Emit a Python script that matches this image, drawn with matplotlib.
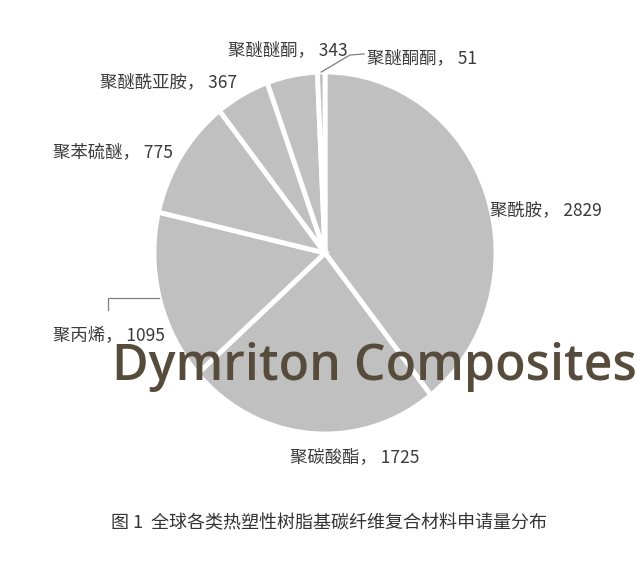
import numpy as np
import matplotlib
matplotlib.use('Agg')
from matplotlib import pyplot as plt

plt.rcParams['font.family'] = ['Noto Sans CJK SC', 'DejaVu Sans']

names = ['聚酰胺', '聚碳酸酯', '聚丙烯', '聚苯硫醚', '聚醚酰亚胺', '聚醚醚酮', '聚醚酮酮']
counts = [2829, 1725, 1095, 775, 367, 343, 51]
title = '图 1  全球各类热塑性树脂基碳纤维复合材料申请量分布'

# label anchors (left, middle) in image pixels
label_pos = [(490, 210), (290, 457), (53, 335), (53, 152), (100, 82), (228, 50), (367, 58)]

W, H = 640, 566
cx, cy = 325, 253      # pie centre, pixels
rx, ry = 171, 181      # the pie is a bit taller than wide

fig = plt.figure(figsize=(6.4, 5.66), dpi=100)
ax = fig.add_axes([0, 0, 1, 1])
wedges, _ = ax.pie(counts, startangle=90, counterclock=False,
                   colors=['#c0c0c0'] * len(counts),
                   wedgeprops=dict(edgecolor='white', linewidth=3.5))
ax.set_aspect('auto')
ax.set_xlim(-cx / rx, (W - cx) / rx)
ax.set_ylim(-(H - cy) / ry, cy / ry)
ax.axis('off')


def px(x, y):
    return (x - cx) / rx, (cy - y) / ry


def edge(i):
    w = wedges[i]
    a = np.deg2rad((w.theta1 + w.theta2) / 2)
    return np.cos(a), np.sin(a)


for i, (n, c) in enumerate(zip(names, counts)):
    x, y = label_pos[i]
    fig.text(x / W, 1 - y / H, '%s， %d' % (n, c), fontsize=12.5,
             color='#3a3a3a', ha='left', va='center')

# leader lines
ex, ey = edge(2)
lx, _ = px(108, 0)
ax.plot([ex, lx, lx], [ey, ey, ey - 12 / ry], color='#7f7f7f', lw=0.9)
ex, ey = edge(6)
p1 = px(350, 55)
p2 = px(364, 54)
ax.plot([ex, p1[0], p2[0]], [ey, p1[1], p2[1]], color='#7f7f7f', lw=0.9)

fig.text(112 / W, 1 - 367 / H, 'Dymriton Composites', fontfamily='Open Sans',
         fontweight='semibold', fontsize=36, color='#574b3c',
         ha='left', va='center')

fig.text(329 / W, 1 - 523 / H, title, fontsize=13, color='#333333',
         ha='center', va='center')

fig.savefig('out.png', dpi=100)
